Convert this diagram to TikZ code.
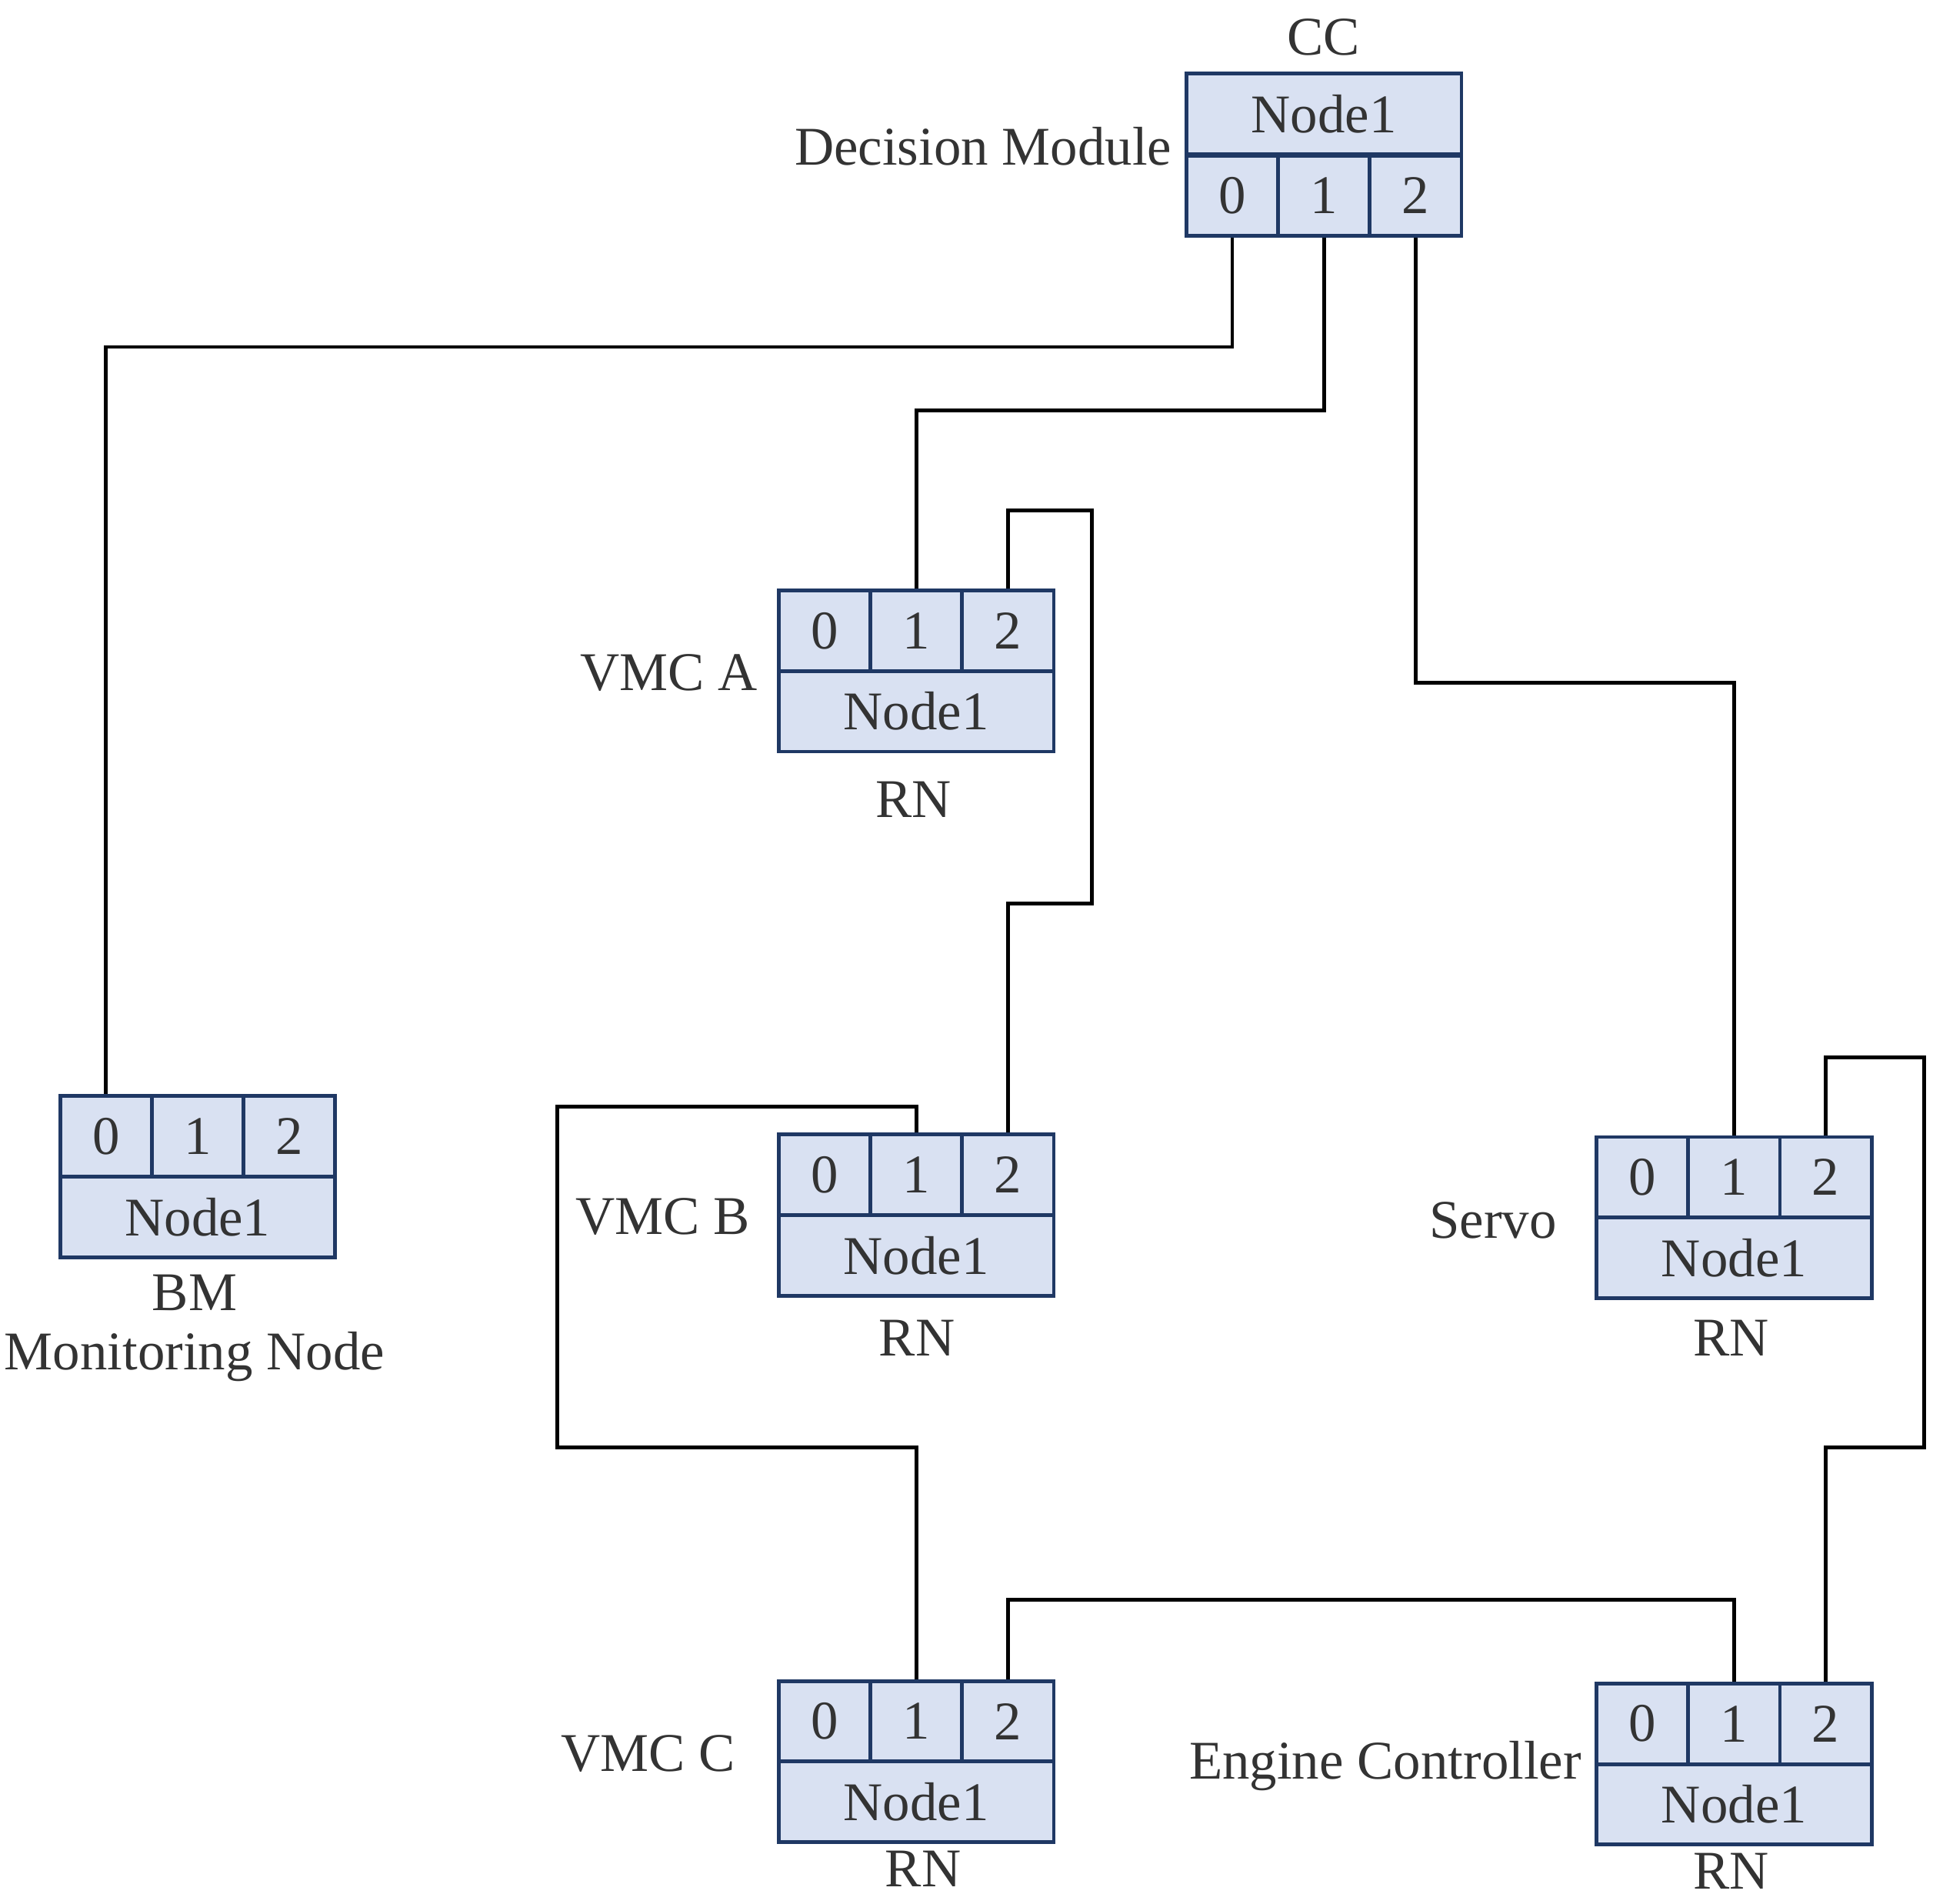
\documentclass[tikz,border=0pt]{standalone}
\usepackage{fontspec}
\setmainfont{Liberation Serif}
\definecolor{cellfill}{HTML}{D9E1F2}
\definecolor{cellline}{HTML}{1F3864}
\definecolor{txt}{HTML}{333333}
\tikzset{
  cell/.style={draw=cellline, fill=cellfill, line width=1.5pt, minimum width=37pt,
    minimum height=32.5pt, inner sep=0pt, anchor=north west, text=txt},
  wide/.style={cell, minimum width=111pt},
  lbl/.style={text=txt, inner sep=0pt},
  wire/.style={line width=1.5pt, black}
}
% ports row on top, Node1 below
\newcommand\rnunit[3]{%
  \node[cell] (#1-0) at (#2,#3) {0};
  \node[cell] (#1-1) at (#2+74,#3) {1};
  \node[cell] (#1-2) at (#2+148,#3) {2};
  \node[wide] (#1-n) at (#2,#3+65) {Node1};}
\begin{document}
\begin{tikzpicture}[x=0.5pt,y=-0.5pt, font=\fontsize{22}{26}\selectfont]
\useasboundingbox (0,0) rectangle (1560,1536);
% CC: Node1 on top
\node[wide] (cc-n) at (956,58) {Node1};
\node[cell] (cc-0) at (956,124) {0};
\node[cell] (cc-1) at (1030,124) {1};
\node[cell] (cc-2) at (1104,124) {2};
\rnunit{vmca}{627}{475}
\rnunit{bm}{47}{883}
\rnunit{vmcb}{627}{914}
\rnunit{servo}{1287}{916}
\rnunit{vmcc}{627}{1355}
\rnunit{eng}{1287}{1357}
% labels
\node[lbl] (l1) at (1068,30) {CC};
\node[lbl, anchor=east] (l2) at (946,118) {Decision Module};
\node[lbl] (l3) at (540,543) {VMC A};
\node[lbl] (l4) at (737,645) {RN};
\node[lbl] (l5) at (157,1043) {BM};
\node[lbl] (l6) at (157,1095) {Monitoring Node};
\node[lbl] (l7) at (535,982) {VMC B};
\node[lbl] (l8) at (740,1080) {RN};
\node[lbl] (l9) at (1205,985) {Servo};
\node[lbl] (l10) at (1397,1080) {RN};
\node[lbl] (l11) at (523,1415) {VMC C};
\node[lbl] (l12) at (745,1508) {RN};
\node[lbl] (l13) at (1118,1425) {Engine Controller};
\node[lbl] (l14) at (1397,1510) {RN};
% wires
\draw[wire] (cc-0.south) -- (cc-0.south |- 0,280) -| (bm-0.north);
\draw[wire] (cc-1.south) -- (cc-1.south |- 0,331) -| (vmca-1.north);
\draw[wire] (vmca-2.north) -- (vmca-2.north |- 0,412) -- (881,412) -- (881,729) -| (vmcb-2.north);
\draw[wire] (cc-2.south) -- (cc-2.south |- 0,551) -| (servo-1.north);
\draw[wire] (vmcb-1.north) -- (vmcb-1.north |- 0,893) -- (450,893) -- (450,1168) -| (vmcc-1.north);
\draw[wire] (vmcc-2.north) -- (vmcc-2.north |- 0,1291) -| (eng-1.north);
\draw[wire] (servo-2.north) -- (servo-2.north |- 0,853) -- (1553,853) -- (1553,1168) -| (eng-2.north);
\end{tikzpicture}
\end{document}
